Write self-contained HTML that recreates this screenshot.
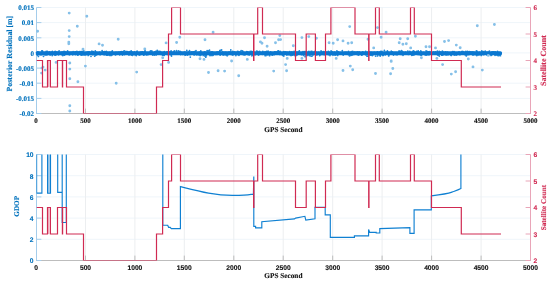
<!DOCTYPE html>
<html><head><meta charset="utf-8"><title>GNSS residuals and GDOP</title><style>
html,body{margin:0;padding:0;background:#fff;}
body{width:550px;height:283px;overflow:hidden;}
svg{display:block;}
.s{font-family:"Liberation Serif",serif;font-weight:bold;text-rendering:geometricPrecision;stroke-width:0.12px;}
.a{font-family:"Liberation Sans",sans-serif;font-weight:bold;text-rendering:geometricPrecision;stroke-width:0.12px;}
</style></head><body>
<svg width="550" height="283" viewBox="0 0 550 283">
<defs>
<clipPath id="ct"><rect x="36.5" y="7.5" width="494.0" height="106.0"/></clipPath>
<clipPath id="cb"><rect x="36.5" y="154.5" width="494.0" height="106.0"/></clipPath>
</defs>
<rect width="550" height="283" fill="#fff"/>
<path d="M36.5 7.5L530.5 7.5M36.5 22.6L530.5 22.6M36.5 37.8L530.5 37.8M36.5 52.9L530.5 52.9M36.5 68.1L530.5 68.1M36.5 83.2L530.5 83.2M36.5 98.4L530.5 98.4" stroke="#EFF5FA" stroke-width="1" fill="none"/>
<path d="M85.5 7.5L85.5 113.5M134.9 7.5L134.9 113.5M184.3 7.5L184.3 113.5M233.8 7.5L233.8 113.5M283.2 7.5L283.2 113.5M332.7 7.5L332.7 113.5M382.1 7.5L382.1 113.5M431.6 7.5L431.6 113.5M481.1 7.5L481.1 113.5" stroke="#ECEEF0" stroke-width="1" fill="none"/>
<path d="M36.0 113.5L531.0 113.5M85.5 113.5L85.5 108.6M134.9 113.5L134.9 108.6M184.3 113.5L184.3 108.6M233.8 113.5L233.8 108.6M283.2 113.5L283.2 108.6M332.7 113.5L332.7 108.6M382.1 113.5L382.1 108.6M431.6 113.5L431.6 108.6M481.1 113.5L481.1 108.6" stroke="#BDBDBD" stroke-width="1.00" fill="none"/>
<path d="M36.5 7.5L36.5 113.5M36.5 7.5L41.4 7.5M36.5 22.6L41.4 22.6M36.5 37.8L41.4 37.8M36.5 52.9L41.4 52.9M36.5 68.1L41.4 68.1M36.5 83.2L41.4 83.2M36.5 98.4L41.4 98.4M36.5 113.5L41.4 113.5" stroke="#A5CDEB" stroke-width="1.00" fill="none"/>
<path d="M530.5 7.5L530.5 113.5M525.6 7.5L530.5 7.5M525.6 34.0L530.5 34.0M525.6 60.5L530.5 60.5M525.6 87.0L530.5 87.0M525.6 113.5L530.5 113.5" stroke="#E9A5B8" stroke-width="1.00" fill="none"/>
<path d="M186.9 54.3h0M69.8 54.6h0M285.7 53.1h0M272.5 53.6h0M53.5 52.9h0M78.3 53.5h0M233.8 53.6h0M140.0 52.8h0M328.4 54.7h0M220.9 52.9h0M491.0 55.4h0M171.0 54.0h0M103.2 54.0h0M416.3 54.0h0M120.2 52.0h0M209.5 52.6h0M291.3 53.7h0M132.0 53.5h0M353.1 52.5h0M308.9 53.7h0M247.2 52.7h0M361.7 55.2h0M149.8 52.1h0M443.8 52.7h0M375.9 52.6h0M91.0 56.3h0M230.9 53.4h0M263.9 52.7h0M54.3 52.4h0M303.0 51.7h0M444.0 52.7h0M313.0 54.9h0M306.2 51.3h0M476.2 53.9h0M256.9 53.1h0M362.9 53.0h0M337.6 55.4h0M168.6 53.2h0M215.8 53.2h0M251.2 53.1h0M114.3 53.6h0M394.0 53.6h0M96.3 53.3h0M442.1 54.4h0M73.6 52.0h0M447.7 53.8h0M417.8 53.9h0M229.5 52.7h0M203.2 55.4h0M106.3 51.5h0M118.1 53.4h0M262.0 54.1h0M310.5 53.3h0M231.2 53.4h0M208.1 50.8h0M357.8 52.2h0M276.2 52.1h0M61.2 52.2h0M455.2 53.7h0M407.8 51.1h0M218.9 52.9h0M331.6 53.6h0M65.0 54.0h0M111.6 53.6h0M194.5 53.4h0M106.5 53.3h0M83.3 53.2h0M443.5 53.5h0M322.2 53.8h0M197.9 54.0h0M205.7 54.9h0M498.8 54.8h0M253.2 52.9h0M83.6 53.4h0M195.7 53.1h0M111.2 55.4h0M46.8 54.6h0M104.3 52.9h0M289.1 54.7h0M492.0 53.6h0M438.3 53.0h0M206.9 52.5h0M113.8 53.5h0M399.1 52.0h0M189.6 53.7h0M495.0 55.3h0M433.3 54.0h0M380.8 51.4h0M141.7 52.3h0M49.5 53.2h0M49.0 53.2h0M358.7 54.2h0M481.8 50.9h0M496.4 54.2h0M481.0 52.8h0M141.7 53.9h0M127.7 53.8h0M455.6 54.8h0M427.7 51.7h0M408.6 53.5h0M75.5 52.0h0M400.6 51.3h0M385.6 52.6h0M403.8 53.4h0M191.0 54.3h0M220.5 50.5h0M223.1 55.0h0M115.2 52.7h0M95.2 54.7h0M411.8 55.3h0M104.1 54.8h0M342.3 50.6h0M199.3 52.8h0M42.6 53.2h0M488.5 52.5h0M471.1 52.2h0M238.2 54.8h0M134.3 51.8h0M153.4 53.1h0M309.3 54.1h0M156.9 52.8h0M460.1 53.6h0M200.9 51.9h0M457.4 53.7h0M232.0 54.5h0M283.8 52.7h0M280.0 54.5h0M121.3 53.5h0M37.8 53.5h0M256.7 52.7h0M374.0 52.4h0M277.6 53.0h0M294.8 53.4h0M297.1 52.8h0M151.8 53.0h0M272.6 55.2h0M297.8 53.5h0M242.6 50.9h0M321.4 52.0h0M358.8 53.3h0M246.8 52.1h0M474.8 53.1h0M361.8 55.2h0M157.0 51.5h0M296.7 55.3h0M99.9 52.6h0M92.7 52.9h0M148.1 53.5h0M70.1 52.4h0M454.0 51.6h0M108.0 53.0h0M102.6 51.7h0M447.4 54.1h0M479.9 53.2h0M221.6 50.0h0M423.9 53.6h0M111.2 52.1h0M194.0 53.9h0M127.2 52.6h0M45.1 54.9h0M294.2 53.1h0M190.5 53.4h0M326.8 52.9h0M495.1 53.3h0M403.4 53.8h0M159.8 53.2h0M54.4 53.5h0M96.4 52.5h0M232.8 55.1h0M156.5 52.3h0M105.6 54.6h0M362.4 52.6h0M77.7 54.9h0M234.2 53.9h0M69.7 54.8h0M409.6 52.7h0M75.0 53.6h0M438.1 53.0h0M247.5 52.6h0M467.8 54.5h0M160.8 54.3h0M147.1 54.3h0M87.0 53.5h0M130.0 53.6h0M181.4 52.7h0M171.1 55.1h0M269.0 53.8h0M44.5 54.2h0M152.7 55.1h0M292.8 53.5h0M124.3 50.8h0M85.5 53.7h0M417.6 52.2h0M424.9 53.9h0M219.2 51.7h0M493.8 53.3h0M195.7 54.2h0M332.4 51.8h0M224.6 53.1h0M96.5 53.6h0M69.0 53.3h0M112.1 52.5h0M75.4 54.5h0M348.5 51.5h0M167.4 53.4h0M250.1 54.2h0M109.4 52.5h0M484.2 53.6h0M489.3 52.5h0M486.0 53.1h0M180.3 53.3h0M213.8 53.4h0M257.2 52.6h0M271.2 53.3h0M38.3 53.3h0M222.2 53.8h0M55.4 54.3h0M144.5 53.5h0M308.9 51.5h0M342.4 53.0h0M369.7 54.1h0M188.0 52.6h0M494.9 54.4h0M335.8 54.8h0M56.4 54.5h0M328.3 51.3h0M378.0 53.6h0M280.1 52.8h0M271.0 54.3h0M421.1 51.6h0M308.2 54.6h0M359.1 52.3h0M143.2 53.9h0M204.1 53.4h0M84.9 54.1h0M328.6 52.1h0M327.8 52.8h0M37.5 52.2h0M407.7 53.3h0M285.4 52.0h0M343.2 55.0h0M153.5 54.1h0M70.7 53.2h0M131.6 55.1h0M380.8 54.6h0M214.3 53.1h0M259.2 52.6h0M323.5 51.6h0M335.5 53.9h0M154.3 53.6h0M382.4 52.9h0M41.8 54.7h0M64.3 53.1h0M358.6 55.0h0M350.9 53.0h0M252.5 54.6h0M253.3 55.0h0M128.9 54.9h0M491.8 53.5h0M249.9 53.2h0M418.1 54.5h0M161.2 53.1h0M133.8 54.0h0M307.0 53.1h0M102.1 50.6h0M97.8 52.9h0M418.2 51.0h0M363.8 53.2h0M143.8 54.3h0M47.6 52.6h0M37.7 52.1h0M176.7 53.4h0M101.6 52.8h0M427.6 54.1h0M36.8 53.3h0M91.9 51.2h0M467.7 52.8h0M171.1 51.0h0M209.5 50.2h0M310.6 55.8h0M204.1 52.5h0M58.5 53.7h0M83.4 53.8h0M472.0 52.6h0M152.2 53.2h0M124.5 54.6h0M210.0 55.5h0M414.4 52.7h0M330.0 55.6h0M291.9 52.0h0M371.3 55.0h0M246.1 53.9h0M386.8 52.8h0M58.8 52.6h0M467.9 54.2h0M196.2 54.2h0M174.8 53.1h0M157.2 50.3h0M341.7 52.9h0M219.8 54.7h0M114.0 53.7h0M458.2 54.0h0M267.6 53.8h0M500.4 55.7h0M245.7 53.8h0M78.3 53.9h0M195.4 54.0h0M156.4 53.8h0M301.5 54.7h0M228.4 52.1h0M228.9 52.3h0M193.6 53.2h0M64.9 52.8h0M94.7 56.2h0M270.6 51.8h0M136.6 51.7h0M162.3 53.3h0M243.8 54.4h0M480.6 54.6h0M46.2 51.5h0M51.0 52.7h0M256.6 51.1h0M309.6 54.4h0M467.9 53.3h0M420.7 55.1h0M151.8 51.0h0M86.8 54.1h0M353.9 54.4h0M474.8 53.0h0M392.4 51.8h0M249.1 53.0h0M400.6 53.2h0M144.4 54.7h0M177.6 52.6h0M95.6 53.3h0M361.6 54.9h0M88.3 54.5h0M307.6 53.9h0M216.9 53.6h0M40.9 54.8h0M176.5 50.6h0M336.4 54.0h0M447.9 52.5h0M151.1 53.5h0M483.7 53.1h0M46.2 52.4h0M268.2 52.8h0M155.9 52.3h0M347.0 54.0h0M51.9 53.0h0M193.5 51.9h0M128.3 54.1h0M407.4 53.2h0M131.6 52.0h0M488.0 52.6h0M143.6 55.2h0M139.2 53.4h0M479.6 52.4h0M267.0 53.6h0M230.3 54.1h0M346.0 53.9h0M219.4 53.1h0M135.2 53.9h0M60.2 53.2h0M64.0 51.5h0M447.8 54.8h0M377.5 55.9h0M189.4 53.3h0M122.5 55.0h0M50.9 52.6h0M345.6 52.6h0M190.6 54.1h0M114.9 54.2h0M199.8 53.3h0M481.3 55.4h0M132.7 55.3h0M202.2 54.2h0M237.5 51.5h0M59.0 52.3h0M464.5 53.5h0M126.0 51.8h0M50.1 55.1h0M227.4 54.0h0M54.9 51.6h0M52.2 55.6h0M155.8 54.3h0M384.2 54.1h0M162.9 52.7h0M482.3 52.7h0M370.0 52.8h0M183.5 53.3h0M388.1 53.4h0M463.1 51.6h0M47.3 51.4h0M145.0 50.6h0M480.5 53.8h0M216.1 53.3h0M266.0 54.5h0M468.5 54.1h0M380.1 55.1h0M419.4 53.5h0M188.8 51.8h0M184.9 52.1h0M72.8 54.8h0M128.0 53.3h0M66.2 52.5h0M51.8 52.4h0M492.8 53.0h0M447.7 54.2h0M75.2 53.3h0M80.9 51.6h0M244.3 53.3h0M145.1 52.0h0M350.1 54.1h0M384.6 54.3h0M92.5 52.0h0M427.9 52.9h0M209.8 54.7h0M380.0 53.6h0M150.3 54.1h0M107.5 54.4h0M188.1 52.4h0M220.6 54.6h0M143.8 53.3h0M412.7 51.4h0M83.7 50.6h0M257.2 54.2h0M462.1 51.4h0M54.8 53.2h0M124.3 53.9h0M489.4 51.1h0M209.5 52.1h0M439.6 52.5h0M398.5 53.6h0M476.7 54.5h0M324.9 54.2h0M137.4 52.9h0M131.1 53.8h0M154.8 52.0h0M130.8 52.4h0M41.3 52.6h0M122.3 54.8h0M181.5 53.9h0M291.4 55.2h0M65.5 54.2h0M292.4 54.0h0M333.9 53.9h0M360.1 53.7h0M227.0 53.1h0M480.2 54.3h0M181.6 52.4h0M230.1 52.9h0M438.8 54.4h0M127.9 53.3h0M375.3 53.4h0M456.2 53.4h0M233.5 53.8h0M447.4 52.3h0M250.8 53.4h0M293.0 53.5h0M334.6 53.7h0M326.0 53.1h0M208.8 52.7h0M168.0 53.3h0M278.9 53.8h0M264.6 53.1h0M411.1 54.0h0M95.0 53.2h0M475.5 54.6h0M60.9 53.1h0M467.6 51.5h0M325.1 54.9h0M420.3 54.4h0M139.5 55.0h0M224.5 54.5h0M121.3 51.6h0M137.7 52.3h0M214.8 54.1h0M93.3 53.4h0M454.2 55.1h0M55.2 51.6h0M53.8 52.6h0M426.6 54.4h0M292.3 54.3h0M328.2 52.9h0M307.5 54.4h0M234.4 52.7h0M240.3 52.3h0M46.9 52.4h0M145.6 52.5h0M391.8 53.6h0M119.7 52.1h0M256.5 53.8h0M236.7 53.7h0M78.7 52.1h0M55.0 53.8h0M332.6 54.9h0M398.4 54.2h0M274.4 54.6h0M212.1 53.8h0M479.1 54.8h0M500.2 55.0h0M377.2 53.6h0M493.5 52.7h0M265.2 55.7h0M112.9 52.7h0M403.4 53.7h0M199.5 53.2h0M388.4 54.6h0M164.2 55.3h0M416.1 54.1h0M464.7 54.3h0M133.1 53.2h0M184.7 54.6h0M53.2 53.6h0M472.4 53.9h0M352.7 53.9h0M401.8 52.9h0M89.6 51.8h0M203.7 53.0h0M442.8 52.0h0M447.3 52.8h0M84.7 54.9h0M219.7 53.3h0M407.7 53.0h0M305.1 56.7h0M203.9 53.4h0M118.4 52.1h0M382.5 55.3h0M154.2 53.9h0M333.9 54.8h0M345.3 53.2h0M181.7 53.6h0M105.6 53.3h0M323.1 52.1h0M453.3 53.9h0M97.5 53.6h0M46.4 54.9h0M37.2 53.0h0M202.4 53.7h0M140.5 52.1h0M131.2 52.6h0M326.8 52.7h0M472.5 53.4h0M149.5 53.6h0M333.4 53.7h0M442.0 53.6h0M159.1 52.2h0M41.4 52.5h0M199.3 52.2h0M336.9 50.9h0M377.8 54.2h0M151.8 53.6h0M283.7 53.1h0M225.2 53.4h0M399.0 53.7h0M41.8 50.8h0M102.3 52.5h0M129.0 52.3h0M335.0 52.5h0M415.0 53.8h0M175.9 54.2h0M58.6 54.8h0M369.4 52.1h0M39.0 54.3h0M252.8 51.8h0M381.7 52.6h0M85.1 53.6h0M144.3 54.3h0M385.4 53.6h0M359.9 54.3h0M160.0 51.9h0M294.1 51.5h0M279.8 54.1h0M159.6 51.5h0M137.1 51.1h0M446.1 54.2h0M146.0 53.4h0M382.7 55.0h0M188.3 52.7h0M446.2 52.9h0M458.9 54.0h0M329.9 52.8h0M492.2 51.8h0M254.8 54.2h0M435.6 51.9h0M239.7 53.1h0M179.4 51.9h0M134.8 53.0h0M460.4 53.0h0M103.4 53.8h0M468.9 53.4h0M196.7 53.5h0M55.4 53.5h0M358.8 52.2h0M379.4 52.1h0M66.6 52.4h0M417.0 52.8h0M417.9 53.6h0M440.4 53.1h0M462.1 53.8h0M131.9 53.1h0M88.2 55.4h0M414.4 53.8h0M331.5 54.0h0M169.9 51.9h0M82.5 54.8h0M131.5 54.4h0M184.7 53.1h0M155.6 53.4h0M167.7 53.1h0M185.5 52.3h0M485.2 51.2h0M324.1 53.3h0M50.4 52.3h0M396.2 53.9h0M197.6 52.9h0M136.9 52.0h0M437.8 55.0h0M115.4 54.4h0M36.6 53.9h0M491.7 55.1h0M38.0 52.1h0M407.3 53.4h0M122.0 52.3h0M423.6 53.4h0M157.4 54.2h0M136.1 53.0h0M362.0 52.8h0M332.6 53.3h0M73.7 53.7h0M402.7 51.7h0M328.6 52.6h0M219.9 54.2h0M450.9 55.3h0M47.7 54.5h0M132.1 53.1h0M269.6 55.7h0M212.8 53.9h0M250.8 52.8h0M283.7 53.4h0M337.2 51.5h0M198.4 53.0h0M428.9 53.9h0M344.5 53.3h0M240.5 52.7h0M396.4 52.8h0M251.3 53.1h0M448.5 53.4h0M176.5 54.0h0M363.7 53.7h0M108.7 52.8h0M151.4 52.7h0M111.0 54.5h0M188.9 54.4h0M375.6 56.1h0M83.4 53.8h0M215.1 53.2h0M494.5 53.8h0M238.7 51.6h0M127.4 53.0h0M132.2 52.9h0M217.0 54.4h0M404.6 53.6h0M359.2 51.8h0M251.9 53.3h0M102.1 52.4h0M381.3 52.6h0M459.1 52.0h0M385.1 53.9h0M232.3 53.6h0M446.1 55.1h0M396.7 52.7h0M352.7 51.3h0M335.0 52.4h0M328.8 53.6h0M81.6 51.6h0M368.3 54.3h0M329.4 53.3h0M248.1 54.5h0M325.7 51.9h0M469.5 54.2h0M121.3 52.3h0M217.1 51.8h0M264.3 53.6h0M289.2 53.3h0M111.0 53.8h0M278.0 50.8h0M83.1 52.1h0M370.3 52.7h0M274.7 52.0h0M279.1 51.7h0M227.2 54.0h0M354.9 53.1h0M218.9 53.4h0M494.8 52.8h0M201.7 54.2h0M222.3 53.6h0M42.2 52.3h0M361.4 53.9h0M200.1 53.3h0M381.5 54.1h0M474.0 52.6h0M409.5 53.2h0M218.7 53.5h0M397.9 53.9h0M413.3 52.5h0M297.9 52.4h0M141.3 54.3h0M333.7 53.1h0M417.5 53.8h0M173.2 52.2h0M291.5 54.8h0M201.3 54.8h0M432.4 53.2h0M154.2 54.4h0M234.6 53.4h0M372.4 53.4h0M167.0 53.4h0M259.5 54.3h0M235.7 52.3h0M204.9 52.1h0M468.8 53.6h0M421.8 53.0h0M458.1 53.5h0M423.4 52.7h0M331.1 53.5h0M479.5 53.3h0M341.7 53.3h0M102.5 53.8h0M144.9 53.5h0M107.1 52.3h0M457.3 53.5h0M451.3 52.7h0M319.5 53.6h0M452.6 51.7h0M403.3 53.7h0M358.9 52.7h0M283.4 53.3h0M447.3 52.1h0M294.7 53.3h0M100.9 54.1h0M265.8 54.5h0M103.3 53.8h0M265.0 52.0h0M438.1 53.3h0M39.1 54.0h0M298.2 52.3h0M346.0 53.9h0M231.2 52.4h0M483.7 54.7h0M332.4 54.0h0M49.3 52.0h0M470.1 52.3h0M190.0 54.6h0M261.9 53.2h0M454.3 55.0h0M327.4 53.7h0M193.8 54.0h0M257.1 52.5h0M280.9 53.4h0M238.8 52.6h0M232.8 51.4h0M172.5 52.6h0M421.7 52.3h0M162.6 54.1h0M272.0 54.9h0M405.1 53.1h0M190.2 52.9h0M309.3 54.2h0M331.8 53.4h0M372.8 53.0h0M448.7 53.0h0M176.0 53.2h0M38.9 54.2h0M319.7 55.6h0M342.6 53.9h0M321.1 51.0h0M323.4 52.1h0M313.9 52.1h0M353.3 53.7h0M249.4 54.9h0M391.4 53.9h0M53.2 53.7h0M396.9 54.7h0M207.9 52.5h0M419.4 53.7h0M156.2 52.0h0M176.8 52.5h0M236.7 53.8h0M335.1 53.7h0M300.5 53.2h0M54.4 54.8h0M304.1 54.7h0M464.1 53.2h0M216.4 53.4h0M311.9 56.2h0M257.6 52.1h0M228.2 54.6h0M134.9 54.3h0M106.7 53.4h0M354.6 53.3h0M92.7 53.8h0M441.2 53.2h0M96.1 55.1h0M148.9 53.5h0M377.9 53.5h0M396.7 53.7h0M368.5 54.4h0M75.3 51.9h0M328.9 53.0h0M470.5 52.1h0M154.4 55.0h0M41.3 52.9h0M42.9 52.1h0M73.1 51.7h0M181.0 53.2h0M437.2 52.7h0M262.6 54.3h0M303.9 53.7h0M240.5 53.1h0M407.6 52.8h0M205.3 52.4h0M230.8 52.1h0M215.8 53.9h0M401.6 50.7h0M300.1 53.2h0M489.9 53.7h0M363.7 53.8h0M318.3 52.5h0M491.5 54.1h0M179.8 52.0h0M235.7 54.1h0M355.1 52.6h0M316.4 54.9h0M168.0 52.1h0M36.8 53.2h0M309.4 54.5h0M416.3 53.6h0M424.3 53.1h0M414.3 54.3h0M163.6 52.3h0M432.7 53.9h0M461.8 51.8h0M197.6 54.5h0M407.6 54.0h0M129.4 53.3h0M145.1 50.8h0M318.8 52.8h0M132.3 52.2h0M154.7 53.3h0M250.2 51.4h0M76.9 54.0h0M144.5 51.6h0M306.1 55.2h0M279.2 51.9h0M258.1 52.7h0M125.6 52.9h0M120.2 53.0h0M299.0 52.3h0M223.6 52.7h0M56.8 53.3h0M500.7 53.0h0M330.9 53.7h0M402.9 54.2h0M196.7 54.6h0M278.1 53.6h0M497.5 53.4h0M439.6 51.9h0M157.9 53.5h0M399.1 50.9h0M393.6 54.5h0M417.6 54.1h0M53.6 53.1h0M129.7 53.5h0M59.8 53.7h0M295.7 54.2h0M477.4 52.4h0M460.0 54.7h0M221.2 53.9h0M91.9 54.1h0M299.1 53.1h0M334.5 54.9h0M219.2 52.9h0M244.9 54.9h0M498.2 55.7h0M139.3 54.1h0M200.0 53.5h0M456.7 55.1h0M57.9 52.1h0M402.5 52.9h0M495.2 51.8h0M62.0 54.5h0M473.8 54.8h0M351.4 52.9h0M389.2 54.7h0M85.1 52.9h0M93.9 54.1h0M260.3 53.7h0M102.7 54.0h0M351.8 55.1h0M126.9 53.5h0M52.8 54.0h0M471.2 53.0h0M439.9 53.8h0M244.4 52.9h0M81.2 55.2h0M328.8 52.4h0M246.8 52.2h0M258.5 55.1h0M328.7 53.8h0M62.4 53.9h0M368.6 52.7h0M441.8 53.1h0M160.1 52.8h0M162.3 53.7h0M427.3 53.0h0M264.8 53.9h0M184.2 53.8h0M492.1 53.0h0M62.5 54.6h0M134.4 52.3h0M258.5 53.1h0M130.0 54.2h0M205.8 57.2h0M467.1 53.1h0M81.5 52.8h0M62.8 55.6h0M374.5 52.5h0M43.5 56.3h0M412.1 53.0h0M36.9 53.8h0M423.8 52.6h0M238.8 53.2h0M461.0 53.6h0M100.3 54.7h0M119.9 53.6h0M127.7 51.6h0M72.9 54.6h0M266.9 54.1h0M163.6 53.7h0M365.8 54.8h0M414.2 52.7h0M66.6 53.0h0M377.5 51.9h0M61.8 54.3h0M413.8 52.3h0M438.9 55.1h0M265.8 55.7h0M258.1 53.6h0M442.4 53.3h0M423.6 54.0h0M207.1 53.9h0M313.2 54.2h0M38.2 52.1h0M276.3 53.2h0M92.3 52.9h0M439.3 51.4h0M185.6 53.1h0M386.1 52.3h0M64.5 55.2h0M266.6 51.4h0M275.2 52.0h0M45.6 53.1h0M486.8 53.4h0M83.8 54.0h0M152.7 53.4h0M81.0 53.1h0M361.7 53.4h0M315.3 53.5h0M304.7 51.6h0M83.9 53.1h0M441.2 53.3h0M93.3 53.0h0M266.0 52.4h0M92.9 53.3h0M225.0 54.3h0M437.3 54.4h0M104.6 51.7h0M112.6 52.5h0M420.9 54.3h0M232.0 52.9h0M427.3 52.2h0M474.7 53.2h0M398.1 52.9h0M192.2 54.0h0M239.0 55.3h0M461.4 53.1h0M415.8 53.5h0M277.1 53.0h0M482.4 54.1h0M232.7 53.0h0M330.8 52.4h0M68.3 54.3h0M237.8 53.1h0M101.0 53.3h0M487.9 53.8h0M331.1 50.8h0M413.1 55.0h0M52.0 51.8h0M335.0 53.2h0M163.4 55.0h0M288.7 54.7h0M152.8 52.6h0M278.5 50.9h0M170.0 54.4h0M178.3 53.0h0M312.9 52.9h0M481.6 52.5h0M253.4 53.3h0M284.8 53.7h0M97.2 53.8h0M172.8 52.6h0M149.4 53.8h0M76.9 51.3h0M320.2 52.7h0M301.7 52.9h0M367.0 52.7h0M250.8 51.9h0M254.5 52.9h0M180.7 53.4h0M274.8 54.1h0M214.6 53.2h0M200.3 53.2h0M437.6 53.4h0M265.0 54.7h0M168.7 54.2h0M395.8 53.3h0M109.9 55.4h0M241.0 54.2h0M64.9 52.4h0M378.7 54.1h0M86.9 53.8h0M380.2 56.1h0M108.0 52.8h0M350.7 54.2h0M323.2 54.5h0M277.3 51.7h0M380.3 53.3h0M257.5 51.5h0M401.8 52.7h0M95.3 51.0h0M441.8 55.2h0M309.0 53.4h0M268.0 54.7h0M230.8 53.0h0M401.2 54.4h0M212.9 52.3h0M246.8 51.6h0M172.5 53.8h0M218.1 52.3h0M186.1 53.0h0M402.8 54.1h0M242.9 52.3h0M121.8 53.1h0M304.2 53.9h0M307.0 55.4h0M186.9 54.6h0M429.0 54.8h0M131.2 51.0h0M234.7 53.5h0M58.1 53.2h0M299.3 50.9h0M396.5 53.4h0M286.9 54.7h0M277.1 53.3h0M355.3 52.5h0M313.1 54.0h0M199.6 54.9h0M280.8 52.8h0M82.1 52.5h0M297.6 54.1h0M303.5 55.4h0M262.8 51.4h0M241.1 50.7h0M196.0 50.7h0M283.1 53.6h0M184.2 52.7h0M492.0 53.9h0M87.5 52.2h0M452.9 52.6h0M497.5 51.4h0M449.9 52.8h0M171.1 53.6h0M274.4 52.6h0M121.0 53.3h0M329.6 52.5h0M499.1 52.7h0M332.6 54.4h0M403.1 53.6h0M178.9 53.3h0M177.9 53.2h0M428.5 51.9h0M127.6 52.5h0M268.0 52.5h0M337.4 53.0h0M283.7 54.8h0M227.6 53.3h0M92.6 54.4h0M85.7 54.9h0M82.6 54.0h0M419.6 54.5h0M321.7 53.5h0M41.8 53.0h0M395.1 52.6h0M200.9 54.9h0M115.0 53.3h0M457.2 53.8h0M307.3 52.6h0M215.7 54.3h0M61.5 54.5h0M483.2 52.4h0M240.9 52.7h0M56.5 52.8h0M469.8 53.9h0M454.9 52.6h0M416.2 52.8h0M483.4 54.7h0M266.9 54.1h0M217.7 53.1h0M370.8 53.5h0M443.9 54.3h0M261.7 53.5h0M116.8 52.5h0M203.0 54.5h0M171.5 56.0h0M297.7 54.3h0M215.7 54.2h0M223.9 53.8h0M420.8 53.6h0M199.7 53.4h0M168.2 54.0h0M146.5 54.9h0M195.1 53.7h0M108.6 53.2h0M161.7 52.9h0M425.1 54.2h0M425.7 54.2h0M411.1 53.9h0M372.7 54.2h0M211.6 54.1h0M479.2 53.1h0M271.3 53.5h0M97.0 54.5h0M365.2 53.2h0M309.8 55.7h0M207.5 53.4h0M135.0 54.8h0M442.5 54.3h0M288.9 54.2h0M162.0 53.5h0M342.4 52.3h0M300.5 52.9h0M76.1 54.3h0M118.5 53.9h0M344.9 52.5h0M86.8 52.4h0M269.2 52.9h0M174.4 54.2h0M141.5 53.7h0M94.8 53.1h0M224.0 52.5h0M459.6 53.7h0M437.4 51.1h0M97.6 53.3h0M352.7 53.6h0M345.3 52.7h0M343.1 54.2h0M361.9 53.3h0M200.1 55.5h0M329.0 53.6h0M461.3 53.8h0M378.1 53.3h0M54.6 53.0h0M111.5 53.6h0M213.4 54.2h0M54.3 52.7h0M119.7 54.8h0M427.2 51.7h0M154.7 52.6h0M238.7 52.9h0M36.5 52.4h0M424.8 53.5h0M56.0 52.4h0M434.0 53.1h0M149.9 53.1h0M87.8 53.5h0M462.2 52.6h0M385.3 54.8h0M219.4 54.2h0M384.4 53.8h0M77.9 52.5h0M477.0 51.1h0M358.3 54.5h0M380.2 54.1h0M247.0 52.0h0M61.3 53.0h0M274.5 52.2h0M468.5 54.6h0M56.4 54.7h0M363.5 53.6h0M290.6 52.5h0M487.8 52.4h0M152.4 52.3h0M63.7 52.6h0M129.9 54.2h0M180.7 54.5h0M348.4 54.6h0M146.9 53.4h0M243.4 54.7h0M472.1 52.8h0M448.3 54.1h0M102.1 52.4h0M416.0 52.9h0M291.5 53.4h0M346.6 52.7h0M315.0 51.5h0M423.3 53.8h0M89.3 53.1h0M132.2 54.3h0M64.1 53.2h0M363.0 54.0h0M244.8 54.1h0M254.4 54.0h0M205.2 53.5h0M41.0 53.7h0M498.3 53.3h0M370.2 52.9h0M492.8 52.8h0M263.8 53.1h0M238.4 53.8h0M39.9 54.6h0M464.5 52.4h0M471.8 52.1h0M340.1 53.3h0M100.6 54.2h0M48.9 53.7h0M174.1 51.2h0M122.6 52.0h0M467.9 51.7h0M114.5 53.8h0M381.9 51.3h0M188.2 54.2h0M185.2 55.2h0M207.7 52.3h0M423.4 53.0h0M147.6 54.7h0M328.8 53.7h0M418.0 52.7h0M476.4 51.0h0M266.4 52.7h0M175.6 53.3h0M306.8 54.8h0M112.3 54.1h0M242.5 53.8h0M54.6 53.2h0M240.8 54.0h0M37.3 55.0h0M427.8 54.5h0M234.3 51.8h0M168.0 52.6h0M232.3 52.2h0M193.8 51.8h0M421.0 53.9h0M457.3 53.8h0M242.5 54.1h0M298.5 52.9h0M75.6 53.9h0M186.8 50.5h0M459.5 54.0h0M439.3 56.1h0M324.9 52.9h0M414.0 54.9h0M319.9 53.9h0M174.4 50.9h0M260.0 52.2h0M337.7 53.0h0M448.5 54.3h0M49.0 53.9h0M244.5 54.9h0M75.7 52.8h0M306.6 52.4h0M230.0 51.9h0M220.7 53.1h0M89.2 54.3h0M291.4 55.4h0M88.3 53.9h0M80.3 52.7h0M283.4 53.3h0M294.2 54.6h0M141.6 52.8h0M275.2 53.1h0M310.2 54.3h0M70.2 53.9h0M240.8 54.2h0M369.0 52.3h0M388.7 55.9h0M372.3 55.5h0M83.6 53.9h0M115.8 52.4h0M483.4 51.6h0M99.8 52.6h0M397.7 54.1h0M209.5 53.6h0M43.1 52.7h0M175.8 52.9h0M365.7 51.3h0M325.5 54.4h0M442.4 51.1h0M441.8 52.4h0M114.3 53.3h0M391.9 52.3h0M353.1 53.6h0M209.8 52.8h0M379.6 55.0h0M56.3 52.8h0M317.4 54.5h0M410.2 54.1h0M88.6 54.8h0M154.6 52.6h0M126.0 51.3h0M306.9 54.0h0M88.9 53.9h0M409.1 53.4h0M122.3 52.5h0M356.2 53.0h0M213.5 54.7h0M286.9 55.1h0M357.3 54.3h0M42.4 50.8h0M195.5 54.1h0M442.9 54.4h0M409.0 54.0h0M417.3 53.5h0M352.7 52.4h0M109.8 54.1h0M429.8 51.6h0M320.7 54.7h0M71.4 53.0h0M452.6 54.0h0M310.6 54.0h0M204.2 53.5h0M254.0 52.4h0M200.8 52.8h0M38.8 52.5h0M45.6 52.9h0M250.1 53.7h0M104.0 53.3h0M348.7 53.2h0M269.0 54.2h0M158.1 52.1h0M482.0 52.8h0M498.4 54.7h0M395.3 53.6h0M442.5 53.6h0M331.7 51.8h0M205.1 52.9h0M442.7 55.2h0M473.4 52.9h0M391.7 52.5h0M380.6 51.8h0M199.3 53.2h0M292.7 53.0h0M193.1 53.5h0M186.6 54.6h0M207.2 53.2h0M149.4 53.4h0M99.2 54.3h0M39.4 54.2h0M243.6 52.5h0M301.0 53.1h0M66.9 54.0h0M176.5 52.7h0M292.9 55.0h0M472.9 52.0h0M307.8 55.4h0M73.3 54.0h0M496.2 54.6h0M202.4 53.5h0M440.6 52.2h0M67.6 51.0h0M164.6 53.6h0M156.0 54.0h0M160.9 53.4h0M364.3 53.5h0M129.4 54.4h0M317.0 54.4h0M127.7 52.1h0M378.0 54.8h0M73.0 53.0h0M413.2 54.0h0M99.7 52.6h0M123.7 51.1h0M334.2 52.8h0M466.1 53.6h0M385.2 54.3h0M338.4 52.0h0M193.4 54.3h0M62.8 53.0h0M327.9 53.5h0M191.9 51.8h0M155.8 53.4h0M251.9 55.8h0M298.9 53.5h0M496.2 54.8h0M373.5 53.9h0M189.4 53.9h0M102.5 53.7h0M393.5 55.0h0M233.2 54.4h0M287.0 52.1h0M342.3 52.6h0M316.3 52.4h0M156.2 54.9h0M367.5 53.5h0M180.1 51.4h0M396.0 54.5h0M165.7 53.2h0M279.9 53.9h0M40.2 53.1h0M257.7 52.3h0M204.9 51.8h0M497.1 53.6h0M77.9 55.2h0M49.0 53.6h0M269.9 53.6h0M294.8 54.4h0M206.4 55.7h0M105.6 54.1h0M465.4 54.9h0M111.5 55.2h0M149.0 53.7h0M493.8 51.8h0M196.4 53.3h0M409.1 52.4h0M457.0 53.6h0M86.2 53.3h0M336.8 52.9h0M223.3 53.6h0M298.9 53.0h0M227.0 55.6h0M328.2 52.0h0M140.4 53.3h0M238.2 54.2h0M143.8 53.9h0M335.5 55.1h0M175.1 54.1h0M301.4 53.3h0M109.0 54.8h0M160.6 51.6h0M386.2 53.7h0M190.5 52.5h0M262.3 53.8h0M354.2 52.9h0M314.5 51.9h0M447.4 53.7h0M133.8 54.1h0M399.4 52.6h0M438.3 54.2h0M499.6 55.3h0M174.7 53.9h0M490.1 53.4h0M40.4 53.9h0M379.0 53.0h0M81.5 54.1h0M78.0 54.8h0M194.2 54.9h0M447.0 52.5h0M492.5 54.1h0M405.1 53.5h0M357.3 54.6h0M143.9 53.6h0M236.6 53.5h0M497.7 53.5h0M183.5 53.7h0M263.1 52.9h0M99.3 52.7h0M355.4 53.6h0M104.9 53.2h0M88.4 52.0h0M200.8 50.9h0M198.8 53.4h0M136.3 55.6h0M376.8 52.9h0M163.2 53.7h0M68.1 54.1h0M56.1 52.2h0M295.4 53.3h0M205.0 55.0h0M340.4 53.4h0M289.5 51.7h0M493.8 52.8h0M443.3 53.1h0M184.3 52.2h0M231.3 54.4h0M215.6 53.1h0M227.1 55.8h0M38.4 56.4h0M319.3 54.1h0M320.7 53.0h0M211.7 53.4h0M90.1 54.1h0M428.9 53.8h0M59.1 51.0h0M359.5 52.6h0M291.8 54.7h0M183.1 53.4h0M383.7 53.3h0M433.7 51.9h0M499.6 53.2h0M145.3 52.1h0M212.5 52.0h0M367.9 52.3h0M321.6 54.2h0M351.6 52.7h0M289.1 54.7h0M140.0 52.7h0M459.5 52.8h0M256.6 53.1h0M258.1 52.0h0M139.1 54.9h0M282.4 55.3h0M280.2 51.3h0M147.2 53.0h0M116.3 53.9h0M334.5 52.2h0M421.6 55.1h0M56.2 52.0h0M213.7 54.3h0M93.3 51.6h0M107.7 53.3h0M202.2 53.8h0M410.3 52.1h0M77.0 53.2h0M220.3 55.0h0M245.4 53.3h0M258.9 53.9h0M105.8 51.6h0M353.0 52.4h0M146.7 54.3h0M208.8 52.8h0M44.3 54.2h0M129.6 53.0h0M119.2 53.2h0M370.7 53.2h0M148.7 54.3h0M424.7 54.6h0M436.3 54.2h0M130.0 51.6h0M323.9 54.2h0M209.2 54.5h0M207.1 53.7h0M368.1 53.0h0M338.1 54.4h0M413.9 52.7h0M305.7 54.2h0M467.0 54.4h0M367.8 56.1h0M209.5 52.8h0M69.0 52.5h0M388.3 52.4h0M267.4 54.3h0M456.0 53.3h0M312.2 53.1h0M251.6 51.3h0M229.3 53.8h0M256.7 54.2h0M264.9 52.6h0M274.5 54.1h0M381.1 51.9h0M223.2 54.9h0M294.1 53.7h0M394.5 53.4h0M138.9 52.8h0M71.9 53.5h0M77.1 52.9h0M387.1 53.0h0M353.3 53.2h0M367.4 53.0h0M358.0 53.4h0M230.8 50.0h0M416.7 51.4h0M442.3 53.9h0M277.5 54.1h0M38.8 54.2h0M158.3 53.3h0M181.9 53.3h0M295.0 55.5h0M274.1 53.0h0M177.9 53.5h0M439.9 54.0h0M155.8 51.3h0M130.1 54.6h0M210.2 53.8h0M252.3 51.9h0M206.4 53.4h0M409.5 54.1h0M295.2 55.7h0M59.8 52.8h0M226.6 54.6h0M299.3 52.9h0M407.0 54.1h0M171.9 52.8h0M311.9 51.4h0M247.9 54.4h0M445.2 52.9h0M62.9 51.9h0M58.8 54.0h0M438.0 54.7h0M120.0 54.0h0M465.9 51.5h0M268.2 52.6h0M350.0 52.9h0M134.3 52.5h0M426.7 54.8h0M132.4 55.3h0M83.0 54.9h0M479.1 54.4h0M229.3 52.9h0M458.2 52.6h0M355.6 53.5h0M360.2 53.6h0M55.5 53.8h0M144.4 52.5h0M307.2 52.7h0M107.8 54.6h0M461.0 52.4h0M106.8 55.2h0M408.5 54.4h0M51.4 53.2h0M213.1 52.8h0M290.3 52.7h0M79.6 51.6h0M236.3 53.7h0M352.4 54.9h0M92.9 54.7h0M466.3 55.9h0M281.3 53.3h0M171.5 52.3h0M267.4 54.8h0M469.3 54.4h0M438.6 54.0h0M314.6 52.9h0M101.1 53.2h0M162.4 55.0h0M141.9 52.0h0M466.9 54.8h0M486.8 53.6h0M196.4 54.8h0M59.3 52.8h0M191.2 52.5h0M381.9 53.6h0M119.4 53.5h0M68.4 52.4h0M296.6 54.5h0M403.2 54.1h0M313.6 53.0h0M275.2 53.4h0M81.3 53.0h0M305.4 52.9h0M200.4 52.2h0M112.4 54.5h0M115.1 54.3h0M428.5 53.0h0M443.0 52.7h0M79.8 53.4h0M445.7 54.3h0M285.8 54.2h0M90.8 52.7h0M285.5 53.5h0M272.2 52.8h0M224.1 53.9h0M130.8 53.9h0M442.1 53.9h0M269.8 53.5h0M475.6 53.2h0M263.6 53.7h0M357.1 51.9h0M142.8 53.3h0M159.1 52.7h0M50.4 52.3h0M172.1 54.2h0M451.0 54.6h0M145.0 54.1h0M313.4 53.7h0M65.0 51.6h0M150.5 50.8h0M55.2 51.5h0M324.1 52.6h0M195.4 51.4h0M413.7 50.9h0M41.0 53.9h0M474.2 52.4h0M77.0 53.9h0M150.1 53.2h0M106.5 51.7h0M196.5 53.8h0M138.4 53.9h0M190.3 57.1h0M404.9 52.8h0M259.6 51.4h0M459.2 53.4h0M386.2 52.8h0M327.3 52.8h0M430.1 53.4h0M370.3 52.9h0M198.7 54.8h0M349.5 55.8h0M383.4 54.7h0M472.7 54.9h0M457.6 53.3h0M409.8 51.3h0M311.1 51.4h0M401.6 54.1h0M441.8 52.5h0M283.8 56.0h0M476.8 55.5h0M403.0 55.3h0M153.4 53.7h0M128.3 52.6h0M249.4 53.4h0M459.2 54.6h0M355.4 53.1h0M401.3 52.3h0M405.9 52.3h0M420.8 50.9h0M225.3 54.7h0M425.7 54.2h0M194.3 51.6h0M405.5 52.2h0M38.1 53.1h0M87.5 53.3h0M414.6 52.0h0M249.2 54.1h0M192.3 53.6h0M429.6 54.3h0M324.6 53.2h0M162.3 53.8h0M362.8 51.8h0M412.1 53.9h0M92.3 53.2h0M419.5 53.0h0M121.8 53.0h0M204.9 56.1h0M140.5 54.5h0M452.6 52.4h0M219.8 50.6h0M272.2 53.3h0M496.7 54.1h0M111.6 55.3h0M281.7 54.0h0M476.4 53.3h0M247.8 53.6h0M200.2 52.6h0M83.0 51.3h0M275.5 52.6h0M211.5 55.4h0M346.5 52.3h0M71.4 52.5h0M482.4 52.5h0M204.6 52.5h0M211.2 52.0h0M279.3 52.3h0M268.1 51.2h0M205.5 53.7h0M425.0 53.3h0M354.5 52.2h0M386.0 52.9h0M451.3 53.1h0M52.4 51.5h0M187.5 55.1h0M451.4 55.4h0M103.4 52.1h0M57.8 52.6h0M218.8 53.3h0M166.9 51.8h0M391.3 53.0h0M232.1 54.7h0M491.8 52.1h0M351.3 51.7h0M213.3 55.0h0M357.9 52.9h0M165.3 54.1h0M420.9 54.6h0M405.9 53.0h0M276.5 53.8h0M444.9 54.3h0M115.5 54.9h0M181.4 54.2h0M214.5 53.6h0M486.6 54.0h0M180.2 53.2h0M475.8 53.6h0M240.3 54.2h0M86.5 53.3h0M215.7 54.4h0M485.1 53.3h0M459.5 54.1h0M245.8 54.1h0M398.9 52.0h0M182.7 54.4h0M255.1 54.8h0M296.4 52.4h0M164.3 51.7h0M205.0 54.5h0M170.4 52.7h0M329.7 53.2h0M55.3 55.2h0M421.2 52.4h0M474.0 52.9h0M159.7 53.3h0M291.6 53.7h0M387.3 52.8h0M412.4 52.3h0M87.9 52.8h0M486.8 54.8h0M331.4 52.7h0M219.8 51.6h0M474.2 53.3h0M218.9 52.3h0M411.5 52.9h0M442.2 53.9h0M283.8 51.7h0M456.1 53.1h0M98.2 53.1h0M228.6 53.7h0M270.0 54.3h0M305.3 52.0h0M224.1 52.5h0M429.7 52.9h0M403.4 53.7h0M349.0 52.8h0M387.4 51.0h0M454.9 53.3h0M382.3 54.0h0M445.5 51.9h0M97.2 52.8h0M321.4 51.7h0M164.2 54.7h0M420.1 53.9h0M163.2 53.5h0M79.7 54.1h0M351.0 55.3h0M203.6 53.0h0M361.9 55.2h0M187.5 54.2h0M37.6 52.9h0M164.2 52.9h0M63.5 52.0h0M412.3 53.8h0M54.5 53.6h0M140.6 52.9h0M329.3 52.8h0M300.9 54.2h0M137.5 53.5h0M427.2 52.6h0M412.9 53.1h0M398.6 53.3h0M49.2 52.2h0M65.4 53.3h0M329.6 53.1h0M222.5 51.9h0M274.6 52.7h0M440.3 52.9h0M500.0 54.3h0M189.5 50.7h0M495.6 54.5h0M98.3 53.9h0M247.6 52.6h0M247.9 51.8h0M195.2 53.7h0M167.7 54.4h0M126.5 53.2h0M240.4 52.0h0M128.1 53.1h0M159.8 52.6h0M297.1 52.4h0M384.4 50.5h0M477.9 54.9h0M371.3 52.5h0M65.2 53.4h0M438.4 53.5h0M372.5 52.7h0M201.6 52.7h0M112.3 51.0h0M178.5 50.8h0M56.6 53.8h0M454.9 54.2h0M410.9 52.8h0M85.7 53.5h0M107.7 53.5h0M497.6 52.1h0M460.9 53.7h0M419.0 52.1h0M95.8 54.4h0M272.7 54.2h0M133.5 53.3h0M459.5 53.6h0M367.0 56.2h0M239.5 52.3h0M377.3 51.8h0M428.1 54.7h0M98.4 54.1h0M308.8 53.4h0M212.6 55.4h0M402.3 53.4h0M252.1 55.6h0M284.9 53.9h0M69.1 52.6h0M448.6 54.7h0M261.8 52.9h0M149.4 52.8h0M458.1 52.9h0M311.5 53.7h0M94.8 53.7h0M308.9 54.5h0M332.6 53.0h0M67.5 52.2h0M373.6 54.5h0M222.5 53.7h0M349.6 53.1h0M338.7 52.5h0M358.5 52.7h0M459.6 53.4h0M315.2 54.1h0M495.9 53.6h0M142.6 51.8h0M419.9 54.5h0M331.4 53.3h0M79.7 53.0h0M490.9 53.4h0M58.7 53.0h0M148.1 54.0h0M349.1 53.0h0M469.6 51.7h0M158.5 51.4h0M107.5 55.2h0M84.4 53.5h0M489.5 53.2h0M412.1 52.6h0M111.9 52.8h0M402.7 53.3h0M450.6 53.4h0M432.8 53.3h0M295.1 53.9h0M324.9 52.2h0M313.1 53.5h0M61.3 52.9h0M290.2 53.0h0M39.6 54.4h0M383.2 55.4h0M414.2 53.6h0M249.4 54.5h0M132.5 54.4h0M235.9 55.6h0M290.5 55.3h0M200.3 54.8h0M432.0 54.3h0M431.3 54.2h0M177.1 54.0h0M391.3 54.2h0M492.0 54.5h0M394.3 53.8h0M89.0 53.3h0M358.7 52.2h0M248.3 52.6h0M225.9 52.1h0M463.1 52.3h0M377.4 54.0h0M426.1 51.0h0M370.0 55.0h0M432.1 53.6h0M236.7 53.8h0M475.3 52.8h0M241.9 53.1h0M176.1 52.5h0M198.4 53.1h0M242.4 53.8h0M493.1 51.9h0M391.3 51.2h0M426.0 55.2h0M163.8 53.3h0M152.4 53.1h0M143.5 53.4h0M449.0 54.2h0M395.0 52.9h0M397.1 54.8h0M283.9 52.1h0M84.9 53.8h0M328.2 52.5h0M207.1 50.6h0M111.1 52.7h0M283.4 52.5h0M473.1 52.2h0M225.9 54.8h0M486.8 52.5h0M77.8 53.5h0M458.5 54.2h0M42.4 53.2h0M497.2 55.1h0" stroke="#2289D6" stroke-width="1.8" stroke-linecap="round" fill="none"/>
<rect x="36.0" y="51.3" width="466.0" height="4" rx="1.5" fill="#0A77D0"/>
<path d="M37.6 31.2h0M69.2 13.1h0M69.2 30.6h0M69.2 36.6h0M68.8 42.3h0M68.8 43.7h0M77.3 26.2h0M86.8 16.3h0M99.1 43.9h0M102.5 45.3h0M118.2 39.2h0M83.0 49.3h0M144.8 48.9h0M42.0 68.1h0M43.0 67.1h0M45.1 70.1h0M41.6 73.1h0M56.1 62.4h0M69.8 63.0h0M69.8 69.1h0M69.8 78.7h0M77.9 81.8h0M85.4 66.1h0M69.8 105.7h0M69.8 111.0h0M116.2 83.2h0M136.7 72.1h0M166.1 42.9h0M176.6 42.5h0M179.8 37.2h0M205.0 39.8h0M213.1 32.2h0M162.7 57.8h0M200.0 58.8h0M204.0 59.4h0M231.6 61.0h0M247.3 59.4h0M161.1 64.6h0M168.6 62.4h0M208.5 72.5h0M218.1 70.7h0M224.6 71.1h0M238.7 75.7h0M260.4 41.9h0M262.0 43.3h0M264.5 37.8h0M267.1 46.3h0M275.5 42.7h0M278.6 39.8h0M279.8 35.6h0M280.6 39.6h0M293.3 45.7h0M301.9 37.6h0M308.8 36.6h0M316.4 38.2h0M287.2 58.4h0M301.9 58.4h0M329.1 42.7h0M333.2 43.3h0M337.6 39.8h0M343.0 40.9h0M348.1 43.3h0M351.7 42.7h0M349.7 26.6h0M336.2 58.4h0M273.7 71.1h0M285.6 64.6h0M286.6 70.7h0M343.0 70.5h0M350.3 66.1h0M352.7 69.7h0M377.5 27.6h0M386.1 32.2h0M381.1 37.2h0M373.7 47.9h0M368.0 39.2h0M400.2 38.8h0M399.2 42.7h0M402.9 44.3h0M406.3 43.7h0M407.7 38.8h0M410.7 47.9h0M415.4 36.2h0M426.0 46.7h0M429.5 46.7h0M435.5 47.9h0M421.4 57.8h0M436.9 58.4h0M444.5 41.5h0M448.6 40.6h0M456.3 45.1h0M460.2 47.7h0M468.3 59.0h0M391.2 61.0h0M375.5 73.5h0M391.2 61.4h0M392.8 68.5h0M390.6 73.7h0M442.6 64.6h0M451.3 74.1h0M455.6 71.7h0M473.0 66.9h0M477.3 25.7h0M494.4 24.5h0M488.3 55.4h0M482.3 70.1h0" stroke="#86C0E8" stroke-width="2.9" stroke-linecap="round" fill="none"/>
<rect x="47.5" y="60.5" width="1.8" height="26.5" fill="#F2B3C3"/>
<path d="M36.5 60.5H42.5V87.0H47.5V60.5H50.4V87.0H57.5V60.5H62.4V87.0H62.6V60.5H66.5V87.0H83.5V113.5H156.5V87.0H162.6V60.5H168.5V34.0H171.6V7.5H180.5V34.0H253.6V60.5H253.9V34.0H257.7V7.5H262.5V34.0H295.5V60.5H306.2V34.0H315.4V60.5H325.5V34.0H330.9V7.5H355.0V34.0H368.7V60.5H369.0V34.0H375.5V7.5H379.3V34.0H410.5V7.5H414.3V34.0H431.5V60.5H461.3V87.0H501.0" stroke="#D02A52" stroke-width="1.20" fill="none" clip-path="url(#ct)"/>
<path d="M36.5 154.5L530.5 154.5M36.5 175.7L530.5 175.7M36.5 196.9L530.5 196.9M36.5 218.1L530.5 218.1M36.5 239.3L530.5 239.3" stroke="#EFF5FA" stroke-width="1" fill="none"/>
<path d="M85.5 154.5L85.5 260.5M134.9 154.5L134.9 260.5M184.3 154.5L184.3 260.5M233.8 154.5L233.8 260.5M283.2 154.5L283.2 260.5M332.7 154.5L332.7 260.5M382.1 154.5L382.1 260.5M431.6 154.5L431.6 260.5M481.1 154.5L481.1 260.5" stroke="#ECEEF0" stroke-width="1" fill="none"/>
<path d="M36.0 260.5L531.0 260.5M85.5 260.5L85.5 255.6M134.9 260.5L134.9 255.6M184.3 260.5L184.3 255.6M233.8 260.5L233.8 255.6M283.2 260.5L283.2 255.6M332.7 260.5L332.7 255.6M382.1 260.5L382.1 255.6M431.6 260.5L431.6 255.6M481.1 260.5L481.1 255.6" stroke="#BDBDBD" stroke-width="1.00" fill="none"/>
<path d="M36.5 154.5L36.5 260.5M36.5 154.5L41.4 154.5M36.5 175.7L41.4 175.7M36.5 196.9L41.4 196.9M36.5 218.1L41.4 218.1M36.5 239.3L41.4 239.3M36.5 260.5L41.4 260.5" stroke="#A5CDEB" stroke-width="1.00" fill="none"/>
<path d="M530.5 154.5L530.5 260.5M525.6 154.5L530.5 154.5M525.6 181.0L530.5 181.0M525.6 207.5L530.5 207.5M525.6 234.0L530.5 234.0M525.6 260.5L530.5 260.5" stroke="#E9A5B8" stroke-width="1.00" fill="none"/>
<rect x="47.6" y="150" width="2.9" height="43.2" fill="#A9CDEA" clip-path="url(#cb)"/>
<path d="M36.6 150V193.1H41.9V150M47.6 150V193.2H50.5V150M57.7 150V192.4H62.2V150M62.2 192.4V222.5H66.3V150M162.8 150V225.2H167.7L168.6 227.3H170.2L171.3 228.6H180.4V186.6C200 191.5 215 195.5 233 195.4S250 194.2 253.4 194.1L253.8 176.5V226.3H255.6V227.9H261.8V221.8L294.5 218.9L295.6 218.1L304.9 216.3L305.8 220.1L315 218.7V207.4H325.2V214.8H330.3V237.4H354.4V235.9H368.6V229.4L369.6 232.3H376.2V233H379.8V228.6L409.9 227.6V233.3H414.1V209.9H431.3V195.9C440 194.8 448 193.5 452 192.1S458 190.1 460.9 188.6V150" stroke="#0F80D2" stroke-width="1.15" fill="none" clip-path="url(#cb)"/>
<rect x="47.5" y="207.5" width="1.8" height="26.5" fill="#F2B3C3"/>
<path d="M36.5 207.5H42.5V234.0H47.5V207.5H50.4V234.0H57.5V207.5H62.4V234.0H62.6V207.5H66.5V234.0H83.5V260.5H156.5V234.0H162.6V207.5H168.5V181.0H171.6V154.5H180.5V181.0H253.6V207.5H253.9V181.0H257.7V154.5H262.5V181.0H295.5V207.5H306.2V181.0H315.4V207.5H325.5V181.0H330.9V154.5H355.0V181.0H368.7V207.5H369.0V181.0H375.5V154.5H379.3V181.0H410.5V154.5H414.3V181.0H431.5V207.5H461.3V234.0H501.0" stroke="#D02A52" stroke-width="1.20" fill="none" clip-path="url(#cb)"/>
<g class="s" font-size="7"><text x="34.0" y="10.2" text-anchor="end" fill="#0072BD" stroke="#0072BD">0.015</text><text x="34.0" y="25.3" text-anchor="end" fill="#0072BD" stroke="#0072BD">0.01</text><text x="34.0" y="40.5" text-anchor="end" fill="#0072BD" stroke="#0072BD">0.005</text><text x="34.0" y="55.6" text-anchor="end" fill="#0072BD" stroke="#0072BD">0</text><text x="34.0" y="70.8" text-anchor="end" fill="#0072BD" stroke="#0072BD">-0.005</text><text x="34.0" y="85.9" text-anchor="end" fill="#0072BD" stroke="#0072BD">-0.01</text><text x="34.0" y="101.1" text-anchor="end" fill="#0072BD" stroke="#0072BD">-0.015</text><text x="34.0" y="116.2" text-anchor="end" fill="#0072BD" stroke="#0072BD">-0.02</text><text x="36.0" y="123.3" text-anchor="middle" fill="#111" stroke="#111">0</text><text x="85.5" y="123.3" text-anchor="middle" fill="#111" stroke="#111">500</text><text x="134.9" y="123.3" text-anchor="middle" fill="#111" stroke="#111">1000</text><text x="184.3" y="123.3" text-anchor="middle" fill="#111" stroke="#111">1500</text><text x="233.8" y="123.3" text-anchor="middle" fill="#111" stroke="#111">2000</text><text x="283.2" y="123.3" text-anchor="middle" fill="#111" stroke="#111">2500</text><text x="332.7" y="123.3" text-anchor="middle" fill="#111" stroke="#111">3000</text><text x="382.1" y="123.3" text-anchor="middle" fill="#111" stroke="#111">3500</text><text x="431.6" y="123.3" text-anchor="middle" fill="#111" stroke="#111">4000</text><text x="481.1" y="123.3" text-anchor="middle" fill="#111" stroke="#111">4500</text><text x="530.5" y="123.3" text-anchor="middle" fill="#111" stroke="#111">5000</text><text x="533.4" y="10.0" fill="#D02A52" stroke="#D02A52">6</text><text x="533.4" y="36.5" fill="#D02A52" stroke="#D02A52">5</text><text x="533.4" y="63.0" fill="#D02A52" stroke="#D02A52">4</text><text x="533.4" y="89.5" fill="#D02A52" stroke="#D02A52">3</text><text x="533.4" y="116.0" fill="#D02A52" stroke="#D02A52">2</text></g>
<text class="s" x="283.4" y="131.8" font-size="7.25" text-anchor="middle" fill="#111" stroke="#111">GPS Second</text>
<text class="s" transform="translate(11.5 53.6) rotate(-90)" font-size="7.85" text-anchor="middle" fill="#0072BD" stroke="#0072BD">Posterior Residual [m]</text>
<text class="s" transform="translate(546.3 60.6) rotate(-90)" font-size="8.0" text-anchor="middle" fill="#D02A52" stroke="#D02A52">Satellite Count</text>
<g class="a" font-size="6.7"><text x="33.6" y="157.3" text-anchor="end" fill="#0072BD" stroke="#0072BD">10</text><text x="33.6" y="178.5" text-anchor="end" fill="#0072BD" stroke="#0072BD">8</text><text x="33.6" y="199.7" text-anchor="end" fill="#0072BD" stroke="#0072BD">6</text><text x="33.6" y="220.9" text-anchor="end" fill="#0072BD" stroke="#0072BD">4</text><text x="33.6" y="242.1" text-anchor="end" fill="#0072BD" stroke="#0072BD">2</text><text x="33.6" y="263.3" text-anchor="end" fill="#0072BD" stroke="#0072BD">0</text><text x="36.0" y="269.8" text-anchor="middle" fill="#111" stroke="#111">0</text><text x="85.5" y="269.8" text-anchor="middle" fill="#111" stroke="#111">500</text><text x="134.9" y="269.8" text-anchor="middle" fill="#111" stroke="#111">1000</text><text x="184.3" y="269.8" text-anchor="middle" fill="#111" stroke="#111">1500</text><text x="233.8" y="269.8" text-anchor="middle" fill="#111" stroke="#111">2000</text><text x="283.2" y="269.8" text-anchor="middle" fill="#111" stroke="#111">2500</text><text x="332.7" y="269.8" text-anchor="middle" fill="#111" stroke="#111">3000</text><text x="382.1" y="269.8" text-anchor="middle" fill="#111" stroke="#111">3500</text><text x="431.6" y="269.8" text-anchor="middle" fill="#111" stroke="#111">4000</text><text x="481.1" y="269.8" text-anchor="middle" fill="#111" stroke="#111">4500</text><text x="530.5" y="269.8" text-anchor="middle" fill="#111" stroke="#111">5000</text><text x="533.4" y="157.1" fill="#D02A52" stroke="#D02A52">6</text><text x="533.4" y="183.6" fill="#D02A52" stroke="#D02A52">5</text><text x="533.4" y="210.1" fill="#D02A52" stroke="#D02A52">4</text><text x="533.4" y="236.6" fill="#D02A52" stroke="#D02A52">3</text><text x="533.4" y="263.1" fill="#D02A52" stroke="#D02A52">2</text></g>
<text class="s" x="283.4" y="278.4" font-size="7.25" text-anchor="middle" fill="#111" stroke="#111">GPS Second</text>
<text class="s" transform="translate(19.3 206.3) rotate(-90)" font-size="7.2" text-anchor="middle" fill="#0072BD" stroke="#0072BD">GDOP</text>
<text class="s" transform="translate(545.9 207.6) rotate(-90)" font-size="7.15" text-anchor="middle" fill="#D02A52" stroke="#D02A52">Satellite Count</text>
</svg>
</body></html>
